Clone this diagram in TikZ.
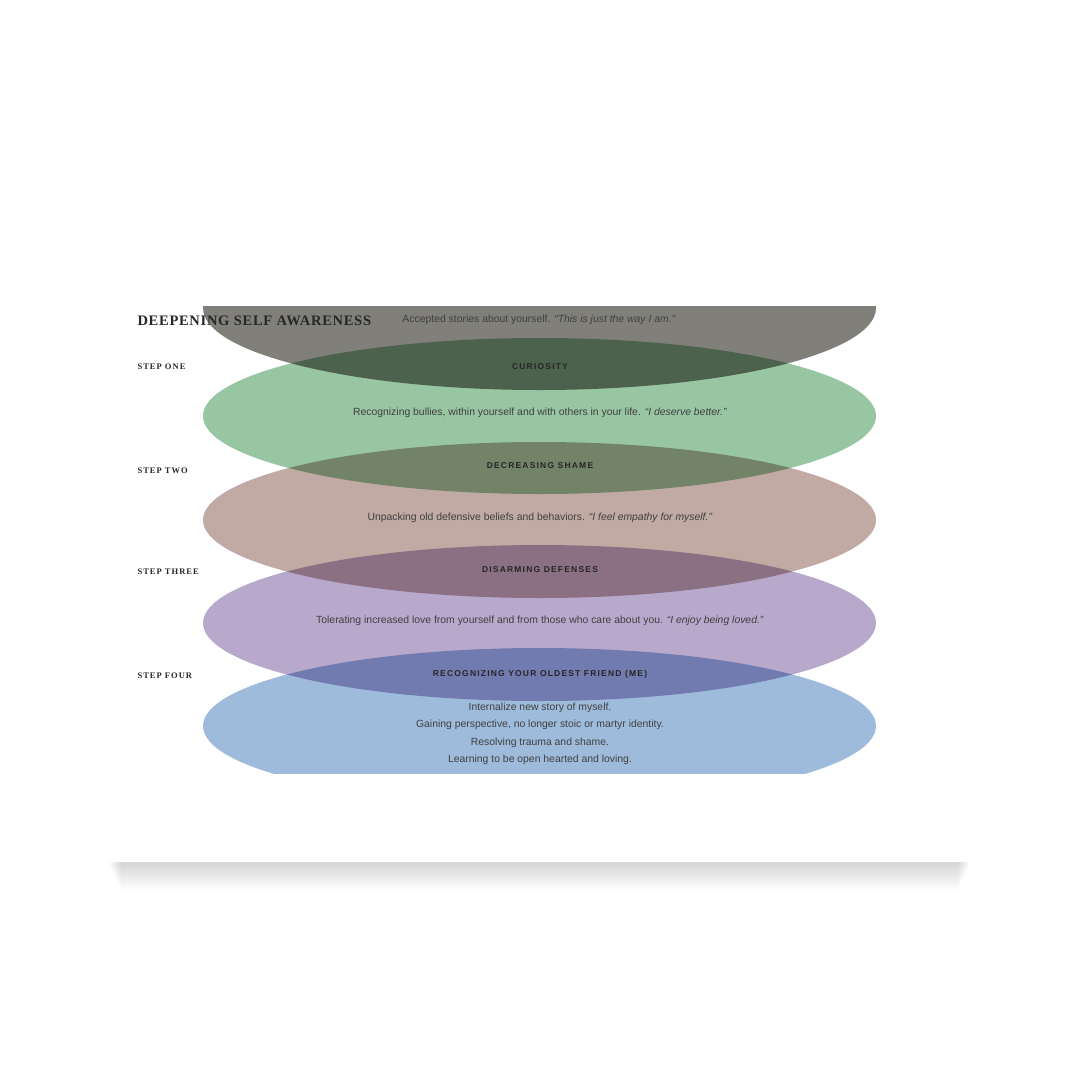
\documentclass[tikz,border=0pt]{standalone}
\usepackage{fontspec}
\setmainfont{Liberation Serif}
\setsansfont{Liberation Sans}
\begin{document}
\begin{tikzpicture}[x=1pt,y=-1pt,
  ell/.style={blend mode=multiply},
  stepl/.style={anchor=west,font=\rmfamily\bfseries\fontsize{8.5}{9}\selectfont\addfontfeatures{LetterSpace=12},text=black!85},
  head/.style={font=\sffamily\bfseries\fontsize{8.5}{9}\selectfont\addfontfeatures{LetterSpace=14},text=black!85},
  body/.style={font=\sffamily\fontsize{10.4}{17.5}\selectfont,text=black!75,align=center}]
\useasboundingbox (0,0) rectangle (1080,1080);
\fill[white] (0,0) rectangle (1080,1080);
% shadow
\foreach \i in {0,2,...,24}
  \fill[black,opacity=0.012] (109+\i/2,226) rectangle (970-\i/2,866+\i);
\fill[white] (109,216) rectangle (970,862);
\begin{scope}
\clip (150,306) rectangle (930,773);
\fill[ell,fill={rgb,255:red,128;green,127;blue,122}] (539.5,308) ellipse (336.5 and 82);
\fill[ell,fill={rgb,255:red,152;green,197;blue,162}] (539.5,416) ellipse (336.5 and 78);
\fill[ell,fill={rgb,255:red,192;green,170;blue,163}] (539.5,520) ellipse (336.5 and 78);
\fill[ell,fill={rgb,255:red,184;green,168;blue,204}] (539.5,623) ellipse (336.5 and 78);
\fill[ell,fill={rgb,255:red,158;green,187;blue,220}] (539.5,726) ellipse (336.5 and 78);
\end{scope}
\node[anchor=west,font=\rmfamily\bfseries\fontsize{14.5}{16}\selectfont\addfontfeatures{LetterSpace=5},text=black!85] (t) at (134,321) {DEEPENING SELF AWARENESS};
\node[stepl] (s1) at (134,367) {STEP ONE};
\node[stepl] (s2) at (134,471) {STEP TWO};
\node[stepl] (s3) at (134,572) {STEP THREE};
\node[stepl] (s4) at (134,676) {STEP FOUR};
\node[body] (b0) at (539,320) {Accepted stories about yourself. \textit{“This is just the way I am.”}};
\node[head] (h1) at (540,367) {CURIOSITY};
\node[body] (b1) at (540,413) {Recognizing bullies, within yourself and with others in your life. \textit{“I deserve better.”}};
\node[head] (h2) at (540,466) {DECREASING SHAME};
\node[body] (b2) at (540,518) {Unpacking old defensive beliefs and behaviors. \textit{“I feel empathy for myself.”}};
\node[head] (h3) at (540,570) {DISARMING DEFENSES};
\node[body] (b3) at (540,621) {Tolerating increased love from yourself and from those who care about you. \textit{“I enjoy being loved.”}};
\node[head] (h4) at (540,674) {RECOGNIZING YOUR OLDEST FRIEND (ME)};
\node[body] (b4) at (540,734) {Internalize new story of myself.\\Gaining perspective, no longer stoic or martyr identity.\\Resolving trauma and shame.\\Learning to be open hearted and loving.};
\end{tikzpicture}
\end{document}
